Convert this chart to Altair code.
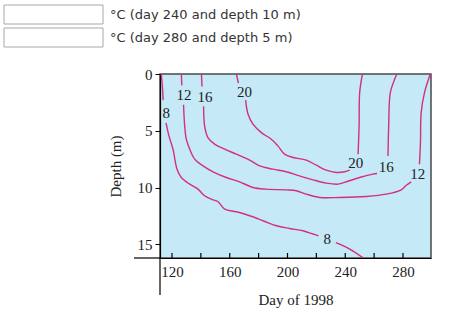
import altair as alt
import pandas as pd

# ---------------- data ----------------
prompts = ["°C (day 240 and depth 10 m)", "°C (day 280 and depth 5 m)"]

x_ticks = [120, 140, 160, 180, 200, 220, 240, 260, 280]
x_labels = [120, 160, 200, 240, 280]
y_labels = [0, 5, 10, 15]

# isotherm 8 °C
iso8_day = [112.6, 113.3, 113.9,
            115.9, 117.9, 120.7, 123.5, 126.5, 132.3, 138.0, 142.6, 147.2, 151.9, 156.5,
            164.6, 173.8, 183.1, 192.3, 201.5, 210.7, 217.7, 221.5,
            233.5, 243.1, 253.6]
iso8_depth = [0.0, 1.0, 2.3,
              4.3, 5.45, 6.62, 8.38, 9.11, 9.70, 10.14, 10.72, 11.02, 11.25, 11.90,
              12.13, 12.48, 12.92, 13.36, 13.60, 13.80, 14.09, 14.25,
              14.85, 15.41, 16.3]
iso8_seg = [0] * 3 + [1] * 19 + [2] * 3

# isotherm 12 °C
iso12_day = [126.5, 126.8,
             128.0, 128.8, 129.9, 132.3, 135.7, 141.5, 148.4, 157.6, 166.8, 176.1, 185.3,
             199.2, 206.1, 213.0, 222.3, 236.1, 254.6, 268.4, 278.8, 282.3, 285.7,
             291.4, 292.1, 292.6, 294.9, 298.4, 298.8]
iso12_depth = [0.0, 1.0,
               2.7, 4.57, 5.74, 6.62, 7.5, 8.09, 8.61, 9.11, 9.49, 9.99, 10.14,
               10.2, 10.28, 10.58, 10.87, 10.87, 10.78, 10.58, 10.2, 9.79, 9.49,
               7.94, 6.04, 3.4, 1.64, 0.18, 0.0]
iso12_seg = [0] * 2 + [1] * 21 + [2] * 6

# isotherm 16 °C
iso16_day = [140.4, 140.8,
             141.9, 142.6, 144.9, 149.5, 156.5, 164.6, 173.8, 180.7, 190.0, 199.2,
             208.4, 217.7, 226.9, 235.0, 240.8, 250.0, 259.2, 262.0,
             269.6, 270.1, 271.2, 274.2, 275.8]
iso16_depth = [0.0, 1.1,
               2.85, 4.57, 5.6, 6.18, 6.62, 7.06, 7.59, 8.09, 8.38, 8.61,
               8.97, 9.32, 9.61, 9.70, 9.49, 9.11, 8.82, 8.76,
               7.21, 4.57, 1.64, 0.47, 0.0]
iso16_seg = [0] * 2 + [1] * 18 + [2] * 5

# isotherm 20 °C
iso20_day = [164.6, 166.0,
             171.0, 172.7, 176.1, 181.9, 188.8, 193.4, 198.0, 203.8, 213.0, 220.0,
             226.9, 233.8, 239.6, 243.1,
             248.9, 249.6, 250.0, 251.9]
iso20_depth = [0.0, 0.8,
               2.3, 3.55, 4.42, 5.16, 5.74, 6.33, 7.06, 7.35, 7.59, 8.03,
               8.47, 8.67, 8.61, 8.47,
               7.06, 4.57, 1.64, 0.0]
iso20_seg = [0] * 2 + [1] * 14 + [2] * 4

label_text = ["8", "12", "16", "20", "8", "20", "16", "12"]
label_day = [116.0, 128.4, 142.8, 170.3, 227.5, 247.3, 268.4, 290.2]
label_depth = [3.4, 1.85, 2.05, 1.55, 14.55, 7.8, 8.15, 8.8]

# ---------------- tables ----------------
rows = []
for temp, days, depths, segs in [(8, iso8_day, iso8_depth, iso8_seg),
                                 (12, iso12_day, iso12_depth, iso12_seg),
                                 (16, iso16_day, iso16_depth, iso16_seg),
                                 (20, iso20_day, iso20_depth, iso20_seg)]:
    for i, (d, z, s) in enumerate(zip(days, depths, segs)):
        rows.append({"day": d, "depth": z, "key": f"{temp}-{s}", "i": i})
lines_df = pd.DataFrame(rows)
labels_df = pd.DataFrame({"t": label_text, "day": label_day, "depth": label_depth})
ticks_df = pd.DataFrame({"day": x_ticks})

W, H = 271, 184
SERIF = "Liberation Serif"
LINE = "#d2307f"

xs = alt.Scale(domain=[111.7, 299.4], nice=False, zero=False)
ys = alt.Scale(domain=[0, 16.2], reverse=True, nice=False, zero=False)

base = alt.Chart(lines_df)

contours = base.mark_line(color=LINE, strokeWidth=1.4, clip=True,
                          interpolate="catmull-rom").encode(
    x=alt.X("day:Q", scale=xs, title="Day of 1998",
            axis=alt.Axis(values=x_labels, ticks=False, grid=False, domainColor="black",
                          domainWidth=1.2, labelPadding=6, labelFont=SERIF, labelFontSize=15,
                          labelColor="#222", titleFont=SERIF, titleFontSize=15,
                          titleFontWeight="normal", titleColor="#222", titlePadding=13,
                          labelFlush=False)),
    y=alt.Y("depth:Q", scale=ys, title="Depth (m)",
            axis=alt.Axis(values=y_labels, tickSize=5, tickColor="black", grid=False,
                          domainColor="black", domainWidth=1.2, labelPadding=3,
                          labelFont=SERIF, labelFontSize=15, labelColor="#222",
                          titleFont=SERIF, titleFontSize=15, titleFontWeight="normal",
                          titleColor="#222", titlePadding=14, labelFlush=False)),
    detail="key:N",
    order="i:Q",
)

labels = alt.Chart(labels_df).mark_text(font=SERIF, fontSize=15, color="#222").encode(
    x=alt.X("day:Q", scale=xs), y=alt.Y("depth:Q", scale=ys), text="t:N")

xticks = alt.Chart(ticks_df).mark_rule(color="black", strokeWidth=1.2).encode(
    x=alt.X("day:Q", scale=xs), y=alt.value(H - 5), y2=alt.value(H))

one = pd.DataFrame({"a": [0]})
x_ext = alt.Chart(one).mark_rule(color="black", strokeWidth=1.2).encode(
    x=alt.value(-26), x2=alt.value(0), y=alt.value(H))
y_ext = alt.Chart(one).mark_rule(color="black", strokeWidth=1.2).encode(
    x=alt.value(0), y=alt.value(H), y2=alt.value(H + 37))

box1 = alt.Chart(one).mark_rect(fill="white", stroke="#a8a8a8", strokeWidth=1).encode(
    x=alt.value(-156), x2=alt.value(-57), y=alt.value(-69), y2=alt.value(-50))
box2 = alt.Chart(one).mark_rect(fill="white", stroke="#a8a8a8", strokeWidth=1).encode(
    x=alt.value(-156), x2=alt.value(-57), y=alt.value(-46), y2=alt.value(-27))
txt1 = alt.Chart(pd.DataFrame({"p": [prompts[0]]})).mark_text(
    font="DejaVu Sans", fontSize=13, color="#333", align="left", baseline="middle").encode(
    x=alt.value(-50), y=alt.value(-59), text="p:N")
txt2 = alt.Chart(pd.DataFrame({"p": [prompts[1]]})).mark_text(
    font="DejaVu Sans", fontSize=13, color="#333", align="left", baseline="middle").encode(
    x=alt.value(-50), y=alt.value(-36), text="p:N")

chart = alt.layer(contours, labels, xticks, x_ext, y_ext, box1, box2, txt1, txt2).properties(
    width=W, height=H,
    padding={"left": 160, "top": 74, "right": 43, "bottom": 71},
    autosize=alt.AutoSizeParams(type="none"),
    background="white",
).configure_view(fill="#c6e9f8", stroke="#4a4a4a", strokeWidth=1.5)

chart.save("out.html", embed_options={"renderer": "svg", "actions": False})
